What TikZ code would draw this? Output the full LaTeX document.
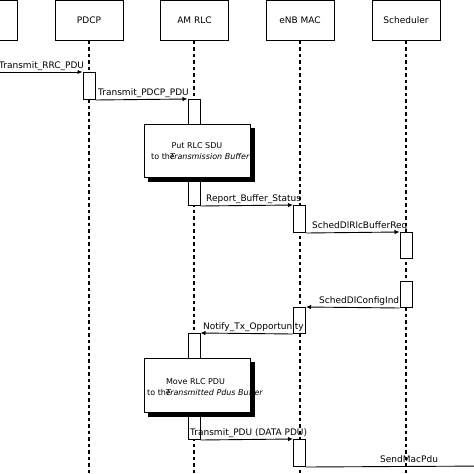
\documentclass[tikz,border=0pt]{standalone}
\usepackage{fontspec}
\setmainfont{DejaVu Sans}
\usetikzlibrary{arrows.meta}
\begin{document}
\begin{tikzpicture}[x=1pt,y=-1pt,
  head/.style={draw, line width=1pt, minimum width=68pt, minimum height=39.5pt, inner sep=0pt, font=\fontsize{9}{11}\selectfont},
  life/.style={line width=1.5pt, dash pattern=on 3.5pt off 3pt},
  act/.style={draw, fill=white, line width=1pt, minimum width=12pt, inner sep=0pt, anchor=north},
  msg/.style={line width=0.9pt, -{Latex[length=5pt,width=4.5pt]}},
  lbl/.style={font=\fontsize{9}{11}\selectfont, inner sep=0pt, anchor=base west},
  note/.style={draw, fill=white, line width=1pt, minimum width=106pt, inner sep=0pt, anchor=north west},
  notetxt/.style={font=\fontsize{8}{10}\selectfont, inner sep=0pt},
  shadowfill/.style={fill=black}
]
\useasboundingbox (0,0) rectangle (474,474);

% heads
\node[head] (rrc) at (-17,20.5) {};
\node[head] (pdcp) at (89,20.5) {PDCP};
\node[head] (rlc) at (194.5,20.5) {AM RLC};
\node[head] (mac) at (300,20.5) {eNB MAC};
\node[head] (sched) at (406,20.5) {Scheduler};

% lifeline ends
\coordinate (pdcpE) at (89,474);
\coordinate (rlcE) at (194,474);
\coordinate (macE) at (300,474);
\coordinate (schedE) at (406,474);
\draw[life] (pdcp.south) -- (pdcpE);
\draw[life] (rlc.south -| rlcE) -- (rlcE);
\draw[life] (mac.south) -- (macE);
\draw[life] (sched.south) -- (schedE);

% activations
\node[act, minimum height=27pt] (a1) at (89,72) {};
\node[act, minimum height=106pt] (a2) at (194,99) {};
\node[act, minimum height=27pt] (a3) at (299.5,205) {};
\node[act, minimum height=26pt] (a4) at (406,232) {};
\node[act, minimum height=26pt] (a5) at (406,281) {};
\node[act, minimum height=26pt] (a6) at (299.5,307) {};
\node[act, minimum height=106pt] (a7) at (194,333) {};
\node[act, minimum height=27pt] (a8) at (299.5,439) {};

% free ends
\coordinate (offL) at (-10,72);
\coordinate (offR) at (490,466);

% messages
\draw[msg] (offL) -- (a1.north west);
\draw[msg] (a1.south east) -- (a2.north west);
\draw[msg] (a2.south east) -- (a3.north west);
\draw[msg] (a3.south east) -- (a4.north west);
\draw[msg] (a5.south west) -- (a6.north east);
\draw[msg] (a6.south west) -- (a7.north east);
\draw[msg] (a7.south east) -- (a8.north west);
\draw[msg] (a8.south east) -- (offR);

% notes
\node[note, minimum height=53pt] (put) at (144,124) {};
\node[notetxt, anchor=base] (put1) at (197,148) {Put RLC SDU};
\node[notetxt, anchor=base west] (put2) at (151,159) {to th\rlap{e}\textit{Transmission Buffer}};
\fill[shadowfill] ([yshift=-4pt]put.north east) rectangle ([shift={(4pt,-4pt)}]put.south east);
\fill[shadowfill] ([xshift=4pt]put.south west) rectangle ([shift={(4pt,-4pt)}]put.south east);

\node[note, minimum height=54pt] (move) at (144,358) {};
\node[notetxt, anchor=base] (move1) at (195.5,384) {Move RLC PDU};
\node[notetxt, anchor=base west] (move2) at (147,395) {to th\rlap{e}\textit{Transmitted Pdus Buffer}};
\fill[shadowfill] ([yshift=-4pt]move.north east) rectangle ([shift={(4pt,-4pt)}]move.south east);
\fill[shadowfill] ([xshift=4pt]move.south west) rectangle ([shift={(4pt,-4pt)}]move.south east);

% labels
\node[lbl] (l1) at (-1,68.5) {Transmit\_RRC\_PDU};
\node[lbl] (l2) at (98,95.5) {Transmit\_PDCP\_PDU};
\node[lbl] (l3) at (206,201.5) {Report\_Buffer\_Status};
\node[lbl] (l4) at (312,228.5) {SchedDlRlcBufferReq};
\node[lbl] (l5) at (319,303.5) {SchedDlConfigInd};
\node[lbl] (l6) at (203,329.5) {Notify\_Tx\_Opportunity};
\node[lbl] (l7) at (190,435.5) {Transmit\_PDU (DATA PDU)};
\node[lbl] (l8) at (380,462.5) {SendMacPdu};
\end{tikzpicture}
\end{document}
